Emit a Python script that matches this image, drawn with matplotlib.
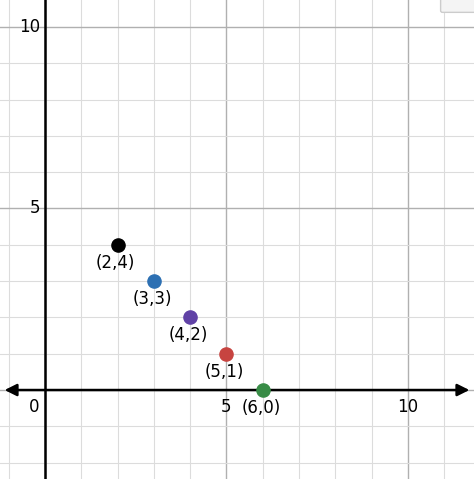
import matplotlib.pyplot as plt
from matplotlib.patches import FancyBboxPatch

xs = [2, 3, 4, 5, 6]
ys = [4, 3, 2, 1, 0]
labels = ['(2,4)', '(3,3)', '(4,2)', '(5,1)', '(6,0)']
colors = ['#000000', '#2d70b3', '#6042a6', '#c74440', '#388c46']
xticks = [5, 10]
yticks = [5, 10]

fig = plt.figure(figsize=(4.74, 4.79), dpi=100)
ax = fig.add_axes([0, 0, 1, 1])
xmin, xmax = -1.24, 11.82
ymin, ymax = -2.45, 10.74
ax.set_xlim(xmin, xmax)
ax.set_ylim(ymin, ymax)
ax.axis('off')

# grid
for v in range(-1, 12):
    c = '#b0b0b0' if v % 5 == 0 else '#dcdcdc'
    ax.axvline(v, color=c, lw=1.0 if v % 5 == 0 else 0.8, zorder=0)
for v in range(-2, 11):
    c = '#b0b0b0' if v % 5 == 0 else '#dcdcdc'
    ax.axhline(v, color=c, lw=1.0 if v % 5 == 0 else 0.8, zorder=0)

# axes with arrows
ax.annotate('', xy=(xmax - 0.05, 0), xytext=(xmin + 0.05, 0),
            arrowprops=dict(arrowstyle='<|-|>', color='black', lw=1.8, mutation_scale=18))
ax.plot([0, 0], [ymin, ymax], color='black', lw=1.8, zorder=1)

# tick labels
for t in xticks:
    ax.text(t, -0.22, str(t), ha='center', va='top', fontsize=12)
for t in yticks:
    ax.text(-0.12, t, str(t), ha='right', va='center', fontsize=12)
ax.text(-0.3, -0.22, '0', ha='center', va='top', fontsize=12)

# points
for x, y, lab, c in zip(xs, ys, labels, colors):
    ax.scatter(x, y, s=90, color=c, zorder=3)
    ax.text(x - 0.05, y - 0.25, lab, ha='center', va='top', fontsize=12, zorder=3)

# desmos button top-right
ax.add_patch(FancyBboxPatch((10.95, 10.45), 1.2, 0.5, boxstyle='round,pad=0.05',
                            facecolor='#f4f4f4', edgecolor='#cccccc', lw=1, zorder=4))

fig.savefig('out.png', dpi=100)
